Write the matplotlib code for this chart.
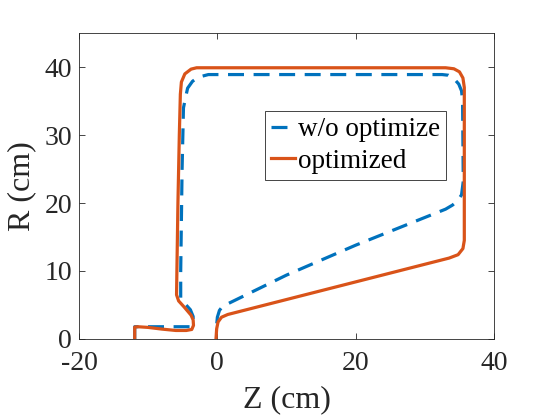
import matplotlib
matplotlib.use("Agg")
import matplotlib.pyplot as plt

# ---- data ----
z_orig = [-11.95, -11.95, -11.5, -8.0, -5.0, -4.0, -3.5, -3.5, -3.9, -4.7, -5.3,
          -5.3, -5.1, -4.9, -4.6, -4.3, -3.6, -2.8, -1.3,
          32.5, 33.4, 34.2, 34.9, 35.3, 35.45,
          35.5, 35.55, 35.3, 34.7, 34.0, 33.0,
          20.0, 10.0, 0.75, 0.3, 0.0, -0.15]
r_orig = [0.0, 1.8, 1.8, 1.8, 1.8, 1.8, 2.2, 3.3, 4.3, 5.2, 5.9,
          10.0, 25.0, 34.0, 35.5, 36.9, 37.9, 38.5, 38.9,
          38.9, 38.8, 38.3, 37.5, 36.5, 35.0,
          29.0, 23.2, 21.2, 20.3, 19.7, 19.1,
          13.8, 9.4, 4.8, 4.2, 3.2, 1.5]

z_opt = [-11.95, -11.95, -11.5, -10.0, -8.0, -6.0, -4.5, -3.7, -3.45, -3.5, -3.8,
         -4.8, -5.6, -5.9, -5.85, -5.7, -5.5, -5.35, -5.2, -4.7, -3.8, -3.0,
         33.0, 34.2, 35.0, 35.5, 35.7, 35.7, 35.5, 34.8, 33.5,
         1.5, 0.6, 0.1, -0.1, -0.2]
r_opt = [0.0, 1.75, 1.8, 1.7, 1.45, 1.25, 1.25, 1.4, 2.0, 2.8, 3.5,
         4.7, 5.6, 6.5, 10.0, 20.0, 30.0, 36.0, 37.8, 39.0, 39.7, 39.9,
         39.9, 39.75, 39.3, 38.4, 37.0, 14.5, 13.3, 12.4, 11.9,
         3.6, 3.2, 2.5, 1.5, 0.0]

labels = ["w/o optimize", "optimized"]
xticks = [-20, 0, 20, 40]
yticks = [0, 10, 20, 30, 40]

plt.rcParams['font.family'] = ['Liberation Serif', 'DejaVu Serif']

fig = plt.figure(figsize=(5.39, 4.19), dpi=100)
ax = fig.add_axes([0.1466, 0.191, 0.770, 0.730])

ax.plot(z_orig, r_orig, color='#0072BD', lw=2.3, dashes=(5.0, 3.0),
        label=labels[0], solid_capstyle='butt')
ax.plot(z_opt, r_opt, color='#D95319', lw=2.3, label=labels[1],
        solid_joinstyle='round')

ax.set_xlim(-20, 40)
ax.set_ylim(0, 45)
ax.set_xticks(xticks)
ax.set_yticks(yticks)
ax.set_xticklabels([str(t) for t in xticks])
ax.set_yticklabels([str(t) for t in yticks])

axcol = '#262626'
for s in ax.spines.values():
    s.set_color(axcol)
    s.set_linewidth(0.6)
ax.tick_params(direction='in', length=4, width=0.6, colors=axcol,
               top=True, right=True, labelsize=20)
ax.tick_params(axis='x', pad=9)
ax.tick_params(axis='y', pad=5)

ax.set_xlabel('Z (cm)', fontsize=23, color=axcol, va='center')
ax.set_ylabel('R (cm)', fontsize=23, color=axcol, va='center')
ax.xaxis.set_label_coords(0.5, -0.2)
ax.yaxis.set_label_coords(-0.138, 0.5)

leg = ax.legend(loc='upper left', bbox_to_anchor=(0.448, 0.745),
                borderaxespad=0, fontsize=19.5, handlelength=0.9,
                handletextpad=0.1, borderpad=0.22, labelspacing=0.25,
                fancybox=False, framealpha=1)
leg.get_frame().set_edgecolor(axcol)
leg.get_frame().set_linewidth(0.6)

fig.savefig('out.png', dpi=100)
